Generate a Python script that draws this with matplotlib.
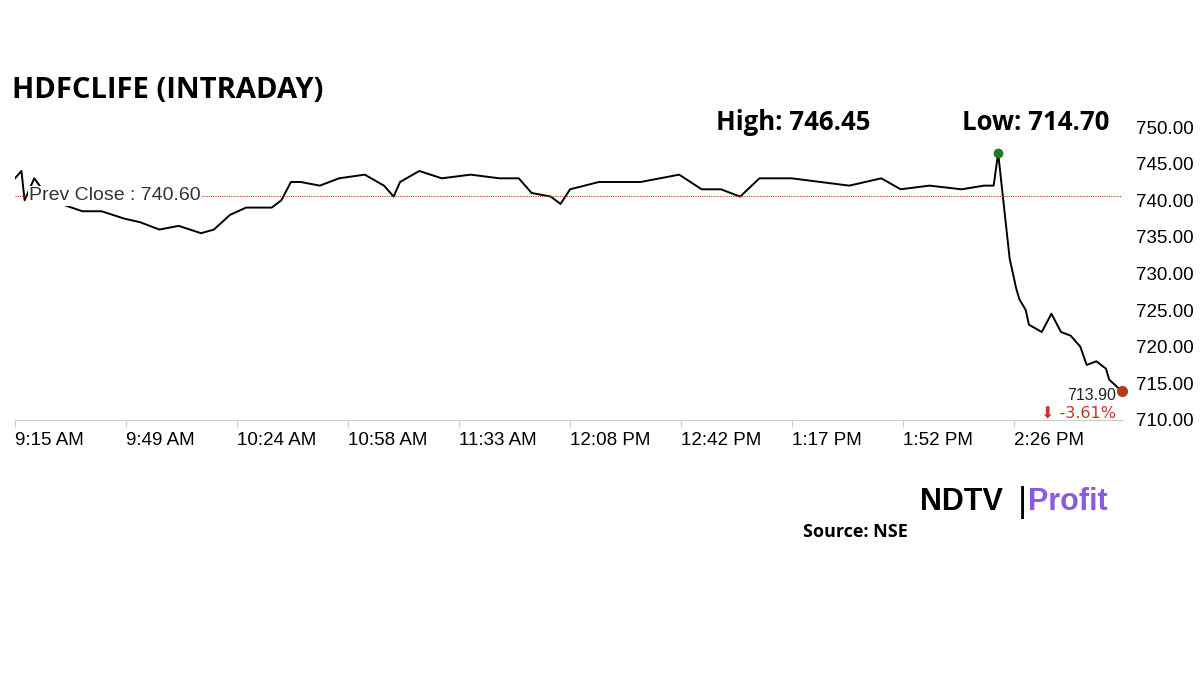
import matplotlib.pyplot as plt

# minutes since 9:15 and price
minutes = [0, 2, 3, 5, 6, 11, 21, 27, 34, 39, 45, 51, 58, 62, 67, 72, 80, 83, 86, 89,
           95, 101, 109, 115, 118, 120, 126, 133, 142, 151, 157, 161, 167, 170, 173,
           182, 195, 207, 214, 220, 226, 232, 242, 251, 260, 270, 276, 285, 295, 302,
           305, 306.4, 308, 310, 312, 313, 315, 316, 320, 323, 326, 329, 332, 334, 337,
           340, 341, 345]
prices = [743, 744, 740, 742, 743, 740, 738.5, 738.5, 737.5, 737, 736, 736.5, 735.5,
          736, 738, 739, 739, 740, 742.5, 742.5, 742, 743, 743.5, 742, 740.5, 742.5,
          744, 743, 743.5, 743, 743, 741, 740.5, 739.5, 741.5, 742.5, 742.5, 743.5,
          741.5, 741.5, 740.5, 743, 743, 742.5, 742, 743, 741.5, 742, 741.5, 742,
          742, 746.45, 740, 732, 728, 726.5, 725, 723, 722, 724.5, 722, 721.5, 720,
          717.5, 718, 717, 715.5, 713.9]
tick_labels = ['9:15 AM', '9:49 AM', '10:24 AM', '10:58 AM', '11:33 AM', '12:08 PM',
               '12:42 PM', '1:17 PM', '1:52 PM', '2:26 PM']
prev_close = 740.60

plt.rcParams['font.family'] = ['Liberation Sans', 'DejaVu Sans']
fig = plt.figure(figsize=(12, 6.75), dpi=100)
ax = fig.add_axes([0.0125, 0.378, 0.9225, 0.45])
ax.plot(minutes, prices, color='black', lw=1.4)
ax.axhline(prev_close, color='#c0392b', lw=0.8, ls=(0, (1, 1)))
ax.text(4.5, prev_close, 'Prev Close : 740.60', fontsize=14, va='center', color='#333',
        bbox=dict(facecolor='white', edgecolor='none', pad=1))
ax.plot(306.4, 746.45, 'o', color='#1e7b1e', ms=6, clip_on=False)
ax.plot(345, 713.9, 'o', color='#b23a1a', ms=7, clip_on=False)
ax.text(343, 712.3, '713.90', ha='right', va='bottom', fontsize=11.5, color='#222')
ax.text(343, 709.9, '\u2b07 -3.61%', ha='right', va='bottom', fontsize=11.5, color='#c0392b',
        family=['DejaVu Sans'])

ax.set_xlim(0, 345)
ax.set_ylim(710, 751.5)
ax.set_xticks([i * 34.6 for i in range(len(tick_labels))])
ax.set_xticklabels(tick_labels, ha='left', fontsize=13.5)
ax.set_yticks([710, 715, 720, 725, 730, 735, 740, 745, 750])
ax.set_yticklabels(['%.2f' % v for v in ax.get_yticks()], fontsize=13.5)
ax.yaxis.tick_right()
ax.tick_params(axis='y', length=0, pad=10)
ax.tick_params(axis='x', length=5, color='#ccc', pad=4)
for s in ['top', 'left', 'right']:
    ax.spines[s].set_visible(False)
ax.spines['bottom'].set_color('#ccc')

fig.text(0.01, 0.855, 'HDFCLIFE (INTRADAY)', fontsize=21, fontweight='bold', family='Open Sans')
fig.text(0.597, 0.807, 'High: 746.45', fontsize=18.5, fontweight='bold', family='Open Sans')
fig.text(0.802, 0.807, 'Low: 714.70', fontsize=18.5, fontweight='bold', family='Open Sans')
fig.text(0.767, 0.245, 'NDTV', fontsize=22, fontweight='bold', family='Liberation Sans')
fig.text(0.848, 0.242, '|', fontsize=25, color='black')
fig.text(0.857, 0.245, 'Profit', fontsize=22, fontweight='bold', color='#8a5be0')
fig.text(0.669, 0.205, 'Source: NSE', fontsize=13, fontweight='bold', family='Open Sans')

fig.savefig('out.png')
